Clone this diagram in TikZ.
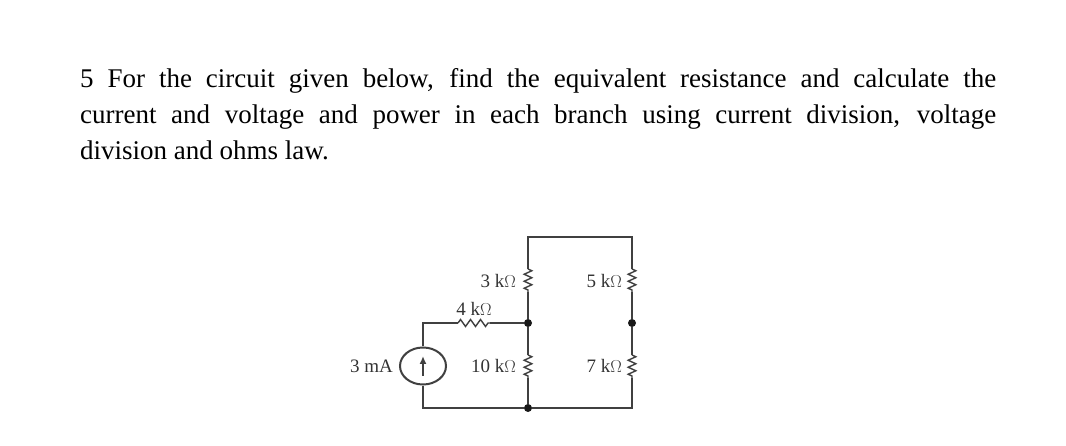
\documentclass[tikz,border=0pt]{standalone}
\usepackage{fontspec}
\setmainfont{Liberation Serif}
\usetikzlibrary{arrows.meta,decorations.pathmorphing,shapes.geometric}
\definecolor{wirecol}{gray}{0.25}
\tikzset{
    wire/.style={draw=wirecol, line width=1.7pt},
    resistor/.style={wire, line width=1.4pt, decorate, decoration={zigzag, amplitude=3.8pt, segment length=7pt}},
    flatresistor/.style={resistor, decoration={zigzag, amplitude=3.5pt, segment length=10pt}},
    junction/.style={circle, fill=black!90, inner sep=0pt, minimum size=8pt},
    value/.style={inner sep=0pt, text=black!80, font=\fontsize{19}{22}\selectfont}
}
\begin{document}
\begin{tikzpicture}[x=1pt,y=-1pt]
    \useasboundingbox (0,0) rectangle (1066,446);

    \node[anchor=north west, inner sep=0pt, text width=916pt, align=justify, text=black, font=\fontsize{27}{36}\selectfont] (question) at (80,68)
        {5 For the circuit given below, find the equivalent resistance and calculate the\linebreak
        current and voltage and power in each branch using current division, voltage\linebreak
        division and ohms law.};

    \coordinate (topl) at (528,237);
    \coordinate (topr) at (632,237);
    \coordinate (midl) at (423,323);
    \coordinate (botl) at (423,408);
    \coordinate (botr) at (632,408);

    \node[junction] (jmid) at (528,323) {};
    \node[junction] (jright) at (632,323) {};
    \node[junction] (jbot) at (528,408) {};

    \node[ellipse, wire, line width=2pt, inner sep=0pt, minimum width=46pt, minimum height=37pt] (source) at (423,366) {};
    \coordinate (arrowa) at (423,376);
    \coordinate (arrowb) at (423,356);
    \draw[wire, -{Latex[length=8pt,width=7pt]}] (arrowa) -- (arrowb);

    % resistor ends
    \coordinate (r3a) at (528,269);
    \coordinate (r3b) at (528,292);
    \coordinate (r5a) at (632,269);
    \coordinate (r5b) at (632,292);
    \coordinate (r4a) at (458,323);
    \coordinate (r4b) at (490,323);
    \coordinate (r10a) at (528,355);
    \coordinate (r10b) at (528,378);
    \coordinate (r7a) at (632,355);
    \coordinate (r7b) at (632,378);

    \draw[resistor] (r3a) -- (r3b);
    \draw[resistor] (r5a) -- (r5b);
    \draw[flatresistor] (r4a) -- (r4b);
    \draw[resistor] (r10a) -- (r10b);
    \draw[resistor] (r7a) -- (r7b);

    % wires
    \draw[wire] (r3a) -- (topl) -- (topr) -- (r5a);
    \draw[wire] (r3b) -- (jmid) -- (r10a);
    \draw[wire] (r5b) -- (jright) -- (r7a);
    \draw[wire] (source.north) -- (midl) -- (r4a);
    \draw[wire] (r4b) -- (jmid);
    \draw[wire] (source.south) -- (botl) -- (jbot) -- (botr) -- (r7b);
    \draw[wire] (r10b) -- (jbot);

    \node[value, anchor=east] (l3k) at (516,281) {3 k$\Omega$};
    \node[value, anchor=east] (l5k) at (622,281) {5 k$\Omega$};
    \node[value] (l4k) at (474,309) {4 k$\Omega$};
    \node[value, anchor=east] (l10k) at (516,366) {10 k$\Omega$};
    \node[value, anchor=east] (l7k) at (622,366) {7 k$\Omega$};
    \node[value, anchor=east] (l3ma) at (393,366) {3 mA};
\end{tikzpicture}
\end{document}
